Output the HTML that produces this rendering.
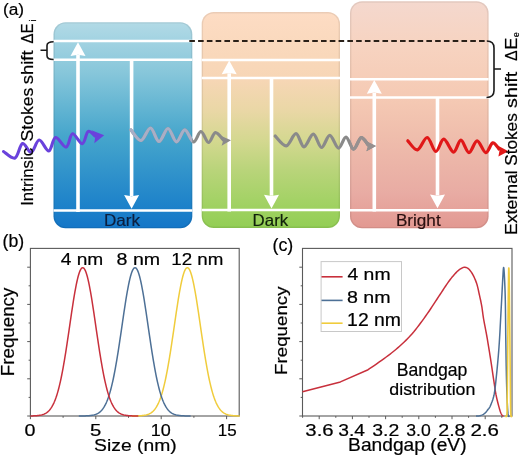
<!DOCTYPE html><html><head><meta charset="utf-8"><title>Figure</title><style>html,body{margin:0;padding:0;background:#fff;overflow:hidden}svg{display:block}text{font-family:"Liberation Sans",Arial,sans-serif}</style></head><body>
<svg width="520" height="458" viewBox="0 0 520 458">
<defs>
<linearGradient id="gb" x1="0" y1="0" x2="0" y2="1">
<stop offset="0" stop-color="#b2dae6"/>
<stop offset="0.25" stop-color="#86c6da"/>
<stop offset="0.55" stop-color="#46a6cc"/>
<stop offset="0.85" stop-color="#2286ca"/>
<stop offset="1" stop-color="#1476c8"/>
</linearGradient>
<linearGradient id="gg" x1="0" y1="0" x2="0" y2="1">
<stop offset="0" stop-color="#fddcc4"/>
<stop offset="0.306" stop-color="#f7d6b6"/>
<stop offset="0.454" stop-color="#ead7a6"/>
<stop offset="0.593" stop-color="#d4d890"/>
<stop offset="0.731" stop-color="#b9d47a"/>
<stop offset="0.87" stop-color="#a4d266"/>
<stop offset="1" stop-color="#92ce54"/>
</linearGradient>
<linearGradient id="gp" x1="0" y1="0" x2="0" y2="1">
<stop offset="0" stop-color="#f4d8ce"/>
<stop offset="0.2" stop-color="#f7d3c0"/>
<stop offset="0.42" stop-color="#f5cab4"/>
<stop offset="0.6" stop-color="#efbdac"/>
<stop offset="0.85" stop-color="#e8aba3"/>
<stop offset="1" stop-color="#e29891"/>
</linearGradient>
<clipPath id="clip_blue"><rect x="53.5" y="22.2" width="138.8" height="206.1" rx="12"/></clipPath>
<clipPath id="clip_green"><rect x="201.7" y="12" width="138.3" height="216" rx="12"/></clipPath>
<clipPath id="clip_pink"><rect x="350" y="1.3" width="138.6" height="227" rx="12"/></clipPath>
</defs>
<rect width="520" height="458" fill="#fff"/>
<rect x="53.5" y="22.2" width="138.8" height="206.1" rx="12" fill="url(#gb)"/>
<rect x="54.2" y="22.9" width="137.4" height="204.7" rx="11.3" fill="none" stroke="#000" stroke-opacity="0.07" stroke-width="1.4"/>
<line x1="53.5" y1="41" x2="192.3" y2="41" stroke="#fff" stroke-width="2.5"/>
<line x1="53.5" y1="59.7" x2="192.3" y2="59.7" stroke="#fff" stroke-width="2.5"/>
<line x1="53.5" y1="210.5" x2="192.3" y2="210.5" stroke="#fff" stroke-width="2.5"/>
<rect x="201.7" y="12" width="138.3" height="216" rx="12" fill="url(#gg)"/>
<rect x="202.4" y="12.7" width="136.9" height="214.6" rx="11.3" fill="none" stroke="#000" stroke-opacity="0.07" stroke-width="1.4"/>
<line x1="201.7" y1="60" x2="340" y2="60" stroke="#fff" stroke-width="2.5"/>
<line x1="201.7" y1="78" x2="340" y2="78" stroke="#fff" stroke-width="2.5"/>
<line x1="201.7" y1="210" x2="340" y2="210" stroke="#fff" stroke-width="2.5"/>
<rect x="350" y="1.3" width="138.6" height="227" rx="12" fill="url(#gp)"/>
<rect x="350.7" y="2" width="137.2" height="225.6" rx="11.3" fill="none" stroke="#000" stroke-opacity="0.07" stroke-width="1.4"/>
<line x1="350" y1="79.3" x2="488.6" y2="79.3" stroke="#fff" stroke-width="2.5"/>
<line x1="350" y1="97.5" x2="488.6" y2="97.5" stroke="#fff" stroke-width="2.5"/>
<line x1="350" y1="210.3" x2="488.6" y2="210.3" stroke="#fff" stroke-width="2.5"/>
<line x1="78" y1="212" x2="78" y2="55" stroke="#fff" stroke-width="3.6"/><path d="M78 42.2 L85.5 56 L78 54.7 L70.5 56 Z" fill="#fff"/>
<line x1="131.6" y1="59.7" x2="131.6" y2="196" stroke="#fff" stroke-width="3.6"/><path d="M131.6 208.8 L139.1 195 L131.6 196.3 L124.1 195 Z" fill="#fff"/>
<line x1="229.2" y1="211.5" x2="229.2" y2="73.3" stroke="#fff" stroke-width="3.6"/><path d="M229.2 60.5 L236.7 74.3 L229.2 73 L221.7 74.3 Z" fill="#fff"/>
<line x1="271.5" y1="78" x2="271.5" y2="195.7" stroke="#fff" stroke-width="3.6"/><path d="M271.5 208.5 L279 194.7 L271.5 196 L264 194.7 Z" fill="#fff"/>
<line x1="374.3" y1="211.5" x2="374.3" y2="92.8" stroke="#fff" stroke-width="3.6"/><path d="M374.3 80 L381.8 93.8 L374.3 92.5 L366.8 93.8 Z" fill="#fff"/>
<line x1="437.5" y1="97.5" x2="437.5" y2="195.5" stroke="#fff" stroke-width="3.6"/><path d="M437.5 208.3 L445 194.5 L437.5 195.8 L430 194.5 Z" fill="#fff"/>
<line x1="189.3" y1="41" x2="487.5" y2="41" stroke="#2a2018" stroke-width="2" stroke-dasharray="5.6 3.18"/>
<path d="M486.8 41 Q494 41 494 48 V90.5 Q494 97.5 486.5 97.5 M494 69 H501" fill="none" stroke="#1a1a1a" stroke-width="1.6" stroke-linecap="butt"/>
<path d="M53.6 41.8 Q47 41.8 47 45.5 V55.8 Q47 59.5 53.6 59.5 M47 50.2 H40.5" fill="none" stroke="#1a1a1a" stroke-width="1.6" stroke-linecap="butt"/>
<path d="M3.5 151.5C5.42 152.58 11.83 159.33 15 158C18.17 156.67 19.8 144.45 22.5 143.5C25.2 142.55 28.42 152.88 31.2 152.3C33.98 151.72 36.27 140.22 39.2 140C42.13 139.78 46.08 151.42 48.8 151C51.52 150.58 52.6 138.15 55.5 137.5C58.4 136.85 63.37 147.72 66.2 147.1C69.03 146.48 69.82 134.37 72.5 133.8C75.18 133.23 79.7 144.08 82.3 143.7C84.9 143.32 85.98 132.78 88.1 131.5C90.22 130.22 93.85 135.25 95 136" fill="none" stroke="#6a42dc" stroke-width="3.1" stroke-linejoin="round" stroke-linecap="round"/>
<path d="M104.2 135.2 L91.5 130.2 L95.3 136.3 L94.3 143.2 Z" fill="#6a42dc"/>
<path d="M131 130C132.67 131.75 137.75 140.83 141 140.5C144.25 140.17 147.5 127.83 150.5 128C153.5 128.17 156.08 141.42 159 141.5C161.92 141.58 165.1 128.45 168 128.5C170.9 128.55 173.6 141.58 176.4 141.8C179.2 142.02 181.95 129.78 184.8 129.8C187.65 129.82 190.8 141.62 193.5 141.9C196.2 142.18 198.5 131.4 201 131.5C203.5 131.6 206.1 142.3 208.5 142.5C210.9 142.7 212.9 133.08 215.4 132.7C217.9 132.32 222.15 138.95 223.5 140.2" fill="none" stroke="#8a8a8a" stroke-width="3.2" stroke-linejoin="round" stroke-linecap="round"/>
<path d="M231 140.3 L220.2 135.4 L223.3 140.2 L221.6 145.8 Z" fill="#8a8a8a"/>
<g clip-path="url(#clip_blue)"><path d="M131 130C132.67 131.75 137.75 140.83 141 140.5C144.25 140.17 147.5 127.83 150.5 128C153.5 128.17 156.08 141.42 159 141.5C161.92 141.58 165.1 128.45 168 128.5C170.9 128.55 173.6 141.58 176.4 141.8C179.2 142.02 181.95 129.78 184.8 129.8C187.65 129.82 190.8 141.62 193.5 141.9C196.2 142.18 198.5 131.4 201 131.5C203.5 131.6 206.1 142.3 208.5 142.5C210.9 142.7 212.9 133.08 215.4 132.7C217.9 132.32 222.15 138.95 223.5 140.2" fill="none" stroke="#a9aec6" stroke-width="3.2" stroke-linejoin="round" stroke-linecap="round"/><path d="M231 140.3 L220.2 135.4 L223.3 140.2 L221.6 145.8 Z" fill="#a9aec6"/></g>
<path d="M275.2 136C277.03 137.63 282.73 146.18 286.2 145.8C289.67 145.42 293.03 133.52 296 133.7C298.97 133.88 301.12 146.82 304 146.9C306.88 146.98 310.38 134.1 313.3 134.2C316.22 134.3 318.75 147.3 321.5 147.5C324.25 147.7 326.97 135.3 329.8 135.4C332.63 135.5 335.8 147.82 338.5 148.1C341.2 148.38 343.5 136.92 346 137.1C348.5 137.28 351 149.1 353.5 149.2C356 149.3 358.58 138.43 361 137.7C363.42 136.97 366.83 143.62 368 144.8" fill="none" stroke="#8a8a8a" stroke-width="3.2" stroke-linejoin="round" stroke-linecap="round"/>
<path d="M376 145.9 L365.2 140.8 L368.3 145.4 L366.4 151.2 Z" fill="#8a8a8a"/>
<g clip-path="url(#clip_pink)"><path d="M275.2 136C277.03 137.63 282.73 146.18 286.2 145.8C289.67 145.42 293.03 133.52 296 133.7C298.97 133.88 301.12 146.82 304 146.9C306.88 146.98 310.38 134.1 313.3 134.2C316.22 134.3 318.75 147.3 321.5 147.5C324.25 147.7 326.97 135.3 329.8 135.4C332.63 135.5 335.8 147.82 338.5 148.1C341.2 148.38 343.5 136.92 346 137.1C348.5 137.28 351 149.1 353.5 149.2C356 149.3 358.58 138.43 361 137.7C363.42 136.97 366.83 143.62 368 144.8" fill="none" stroke="#969090" stroke-width="3.2" stroke-linejoin="round" stroke-linecap="round"/><path d="M376 145.9 L365.2 140.8 L368.3 145.4 L366.4 151.2 Z" fill="#969090"/></g>
<path d="M407.8 140.8C409.42 142.32 414.27 150.45 417.5 149.9C420.73 149.35 424.15 137.23 427.2 137.5C430.25 137.77 433.03 151.22 435.8 151.5C438.57 151.78 440.85 139.1 443.8 139.2C446.75 139.3 450.65 151.93 453.5 152.1C456.35 152.27 458.32 140.12 460.9 140.2C463.48 140.28 466.3 152.5 469 152.6C471.7 152.7 474.32 140.8 477.1 140.8C479.88 140.8 483.1 152.25 485.7 152.6C488.3 152.95 490.48 143.5 492.7 142.9C494.92 142.3 497.95 147.98 499 149" fill="none" stroke="#e01818" stroke-width="3.2" stroke-linejoin="round" stroke-linecap="round"/>
<path d="M508.4 151.2 L496.2 144.8 L499.6 149.9 L498.4 156.4 Z" fill="#e01818"/>
<rect x="30.4" y="248.4" width="208.8" height="167.6" fill="none" stroke="#5a5a5a" stroke-width="1.1"/>
<path d="M30.4 416H27.2M30.4 397.4H28.6M30.4 378.8H27.2M30.4 360.2H28.6M30.4 341.6H27.2M30.4 323H28.6M30.4 304.4H27.2M30.4 285.8H28.6M30.4 267.2H27.2M30.4 416V419.2M63.1 416V417.8M95.8 416V419.2M128.5 416V417.8M161.2 416V419.2M193.9 416V417.8M226.6 416V419.2" stroke="#5a5a5a" stroke-width="1" fill="none"/>
<rect x="302.5" y="248.4" width="209.5" height="167.6" fill="none" stroke="#5a5a5a" stroke-width="1.1"/>
<path d="M302.5 416H299.3M302.5 397.4H300.7M302.5 378.8H299.3M302.5 360.2H300.7M302.5 341.6H299.3M302.5 323H300.7M302.5 304.4H299.3M302.5 285.8H300.7M302.5 267.2H299.3M302.6 416V417.8M319.2 416V419.2M335.8 416V417.8M352.4 416V419.2M369 416V417.8M385.6 416V419.2M402.2 416V417.8M418.8 416V419.2M435.4 416V417.8M452 416V419.2M468.6 416V417.8M485.2 416V419.2M501.8 416V417.8" stroke="#5a5a5a" stroke-width="1" fill="none"/>
<path d="M131.12 415.99 L131.77 415.98 L132.42 415.98 L133.08 415.97 L133.73 415.97 L134.39 415.96 L135.04 415.95 L135.69 415.94 L136.35 415.93 L137 415.91 L137.66 415.89 L138.31 415.87 L138.96 415.84 L139.62 415.81 L140.27 415.77 L140.93 415.73 L141.58 415.68 L142.23 415.61 L142.89 415.54 L143.54 415.46 L144.2 415.36 L144.85 415.25 L145.5 415.11 L146.16 414.96 L146.81 414.79 L147.47 414.58 L148.12 414.35 L148.77 414.09 L149.43 413.79 L150.08 413.45 L150.74 413.06 L151.39 412.62 L152.04 412.13 L152.7 411.57 L153.35 410.95 L154.01 410.26 L154.66 409.48 L155.31 408.63 L155.97 407.68 L156.62 406.63 L157.28 405.47 L157.93 404.2 L158.58 402.81 L159.24 401.3 L159.89 399.65 L160.55 397.86 L161.2 395.93 L161.85 393.85 L162.51 391.61 L163.16 389.21 L163.82 386.65 L164.47 383.93 L165.12 381.04 L165.78 377.98 L166.43 374.77 L167.09 371.39 L167.74 367.85 L168.39 364.17 L169.05 360.34 L169.7 356.38 L170.36 352.3 L171.01 348.1 L171.66 343.81 L172.32 339.45 L172.97 335.02 L173.63 330.55 L174.28 326.05 L174.93 321.56 L175.59 317.09 L176.24 312.66 L176.9 308.31 L177.55 304.06 L178.2 299.92 L178.86 295.94 L179.51 292.13 L180.17 288.52 L180.82 285.13 L181.47 281.98 L182.13 279.1 L182.78 276.51 L183.44 274.23 L184.09 272.26 L184.74 270.64 L185.4 269.36 L186.05 268.44 L186.71 267.89 L187.36 267.7 L188.01 267.89 L188.67 268.44 L189.32 269.36 L189.98 270.64 L190.63 272.26 L191.28 274.23 L191.94 276.51 L192.59 279.1 L193.25 281.98 L193.9 285.13 L194.55 288.52 L195.21 292.13 L195.86 295.94 L196.52 299.92 L197.17 304.06 L197.82 308.31 L198.48 312.66 L199.13 317.09 L199.79 321.56 L200.44 326.05 L201.09 330.55 L201.75 335.02 L202.4 339.45 L203.06 343.81 L203.71 348.1 L204.36 352.3 L205.02 356.38 L205.67 360.34 L206.33 364.17 L206.98 367.85 L207.63 371.39 L208.29 374.77 L208.94 377.98 L209.6 381.04 L210.25 383.93 L210.9 386.65 L211.56 389.21 L212.21 391.61 L212.87 393.85 L213.52 395.93 L214.17 397.86 L214.83 399.65 L215.48 401.3 L216.14 402.81 L216.79 404.2 L217.44 405.47 L218.1 406.63 L218.75 407.68 L219.41 408.63 L220.06 409.48 L220.71 410.26 L221.37 410.95 L222.02 411.57 L222.68 412.13 L223.33 412.62 L223.98 413.06 L224.64 413.45 L225.29 413.79 L225.95 414.09 L226.6 414.35 L227.25 414.58 L227.91 414.79 L228.56 414.96 L229.22 415.11 L229.87 415.25 L230.52 415.36 L231.18 415.46 L231.83 415.54 L232.49 415.61 L233.14 415.68 L233.79 415.73 L234.45 415.77 L235.1 415.81 L235.76 415.84 L236.41 415.87 L237.06 415.89 L237.72 415.91 L238.37 415.93 L239.03 415.94 L239.68 415.95" fill="none" stroke="#f0cc3c" stroke-width="1.5" stroke-linejoin="round"/>
<path d="M78.8 415.99 L79.45 415.98 L80.1 415.98 L80.76 415.97 L81.41 415.97 L82.07 415.96 L82.72 415.95 L83.37 415.94 L84.03 415.93 L84.68 415.91 L85.34 415.89 L85.99 415.87 L86.64 415.84 L87.3 415.81 L87.95 415.77 L88.61 415.73 L89.26 415.68 L89.91 415.61 L90.57 415.54 L91.22 415.46 L91.88 415.36 L92.53 415.25 L93.18 415.11 L93.84 414.96 L94.49 414.79 L95.15 414.58 L95.8 414.35 L96.45 414.09 L97.11 413.79 L97.76 413.45 L98.42 413.06 L99.07 412.62 L99.72 412.13 L100.38 411.57 L101.03 410.95 L101.69 410.26 L102.34 409.48 L102.99 408.63 L103.65 407.68 L104.3 406.63 L104.96 405.47 L105.61 404.2 L106.26 402.81 L106.92 401.3 L107.57 399.65 L108.23 397.86 L108.88 395.93 L109.53 393.85 L110.19 391.61 L110.84 389.21 L111.5 386.65 L112.15 383.93 L112.8 381.04 L113.46 377.98 L114.11 374.77 L114.77 371.39 L115.42 367.85 L116.07 364.17 L116.73 360.34 L117.38 356.38 L118.04 352.3 L118.69 348.1 L119.34 343.81 L120 339.45 L120.65 335.02 L121.31 330.55 L121.96 326.05 L122.61 321.56 L123.27 317.09 L123.92 312.66 L124.58 308.31 L125.23 304.06 L125.88 299.92 L126.54 295.94 L127.19 292.13 L127.85 288.52 L128.5 285.13 L129.15 281.98 L129.81 279.1 L130.46 276.51 L131.12 274.23 L131.77 272.26 L132.42 270.64 L133.08 269.36 L133.73 268.44 L134.39 267.89 L135.04 267.7 L135.69 267.89 L136.35 268.44 L137 269.36 L137.66 270.64 L138.31 272.26 L138.96 274.23 L139.62 276.51 L140.27 279.1 L140.93 281.98 L141.58 285.13 L142.23 288.52 L142.89 292.13 L143.54 295.94 L144.2 299.92 L144.85 304.06 L145.5 308.31 L146.16 312.66 L146.81 317.09 L147.47 321.56 L148.12 326.05 L148.77 330.55 L149.43 335.02 L150.08 339.45 L150.74 343.81 L151.39 348.1 L152.04 352.3 L152.7 356.38 L153.35 360.34 L154.01 364.17 L154.66 367.85 L155.31 371.39 L155.97 374.77 L156.62 377.98 L157.28 381.04 L157.93 383.93 L158.58 386.65 L159.24 389.21 L159.89 391.61 L160.55 393.85 L161.2 395.93 L161.85 397.86 L162.51 399.65 L163.16 401.3 L163.82 402.81 L164.47 404.2 L165.12 405.47 L165.78 406.63 L166.43 407.68 L167.09 408.63 L167.74 409.48 L168.39 410.26 L169.05 410.95 L169.7 411.57 L170.36 412.13 L171.01 412.62 L171.66 413.06 L172.32 413.45 L172.97 413.79 L173.63 414.09 L174.28 414.35 L174.93 414.58 L175.59 414.79 L176.24 414.96 L176.9 415.11 L177.55 415.25 L178.2 415.36 L178.86 415.46 L179.51 415.54 L180.17 415.61 L180.82 415.68 L181.47 415.73 L182.13 415.77 L182.78 415.81 L183.44 415.84 L184.09 415.87 L184.74 415.89 L185.4 415.91 L186.05 415.93 L186.71 415.94 L187.36 415.95 L188.01 415.96 L188.67 415.97 L189.32 415.97 L189.98 415.98 L190.63 415.98" fill="none" stroke="#4d7096" stroke-width="1.5" stroke-linejoin="round"/>
<path d="M30.4 415.95 L31.05 415.94 L31.71 415.93 L32.36 415.91 L33.02 415.89 L33.67 415.87 L34.32 415.84 L34.98 415.81 L35.63 415.77 L36.29 415.73 L36.94 415.68 L37.59 415.61 L38.25 415.54 L38.9 415.46 L39.56 415.36 L40.21 415.25 L40.86 415.11 L41.52 414.96 L42.17 414.79 L42.83 414.58 L43.48 414.35 L44.13 414.09 L44.79 413.79 L45.44 413.45 L46.1 413.06 L46.75 412.62 L47.4 412.13 L48.06 411.57 L48.71 410.95 L49.37 410.26 L50.02 409.48 L50.67 408.63 L51.33 407.68 L51.98 406.63 L52.64 405.47 L53.29 404.2 L53.94 402.81 L54.6 401.3 L55.25 399.65 L55.91 397.86 L56.56 395.93 L57.21 393.85 L57.87 391.61 L58.52 389.21 L59.18 386.65 L59.83 383.93 L60.48 381.04 L61.14 377.98 L61.79 374.77 L62.45 371.39 L63.1 367.85 L63.75 364.17 L64.41 360.34 L65.06 356.38 L65.72 352.3 L66.37 348.1 L67.02 343.81 L67.68 339.45 L68.33 335.02 L68.99 330.55 L69.64 326.05 L70.29 321.56 L70.95 317.09 L71.6 312.66 L72.26 308.31 L72.91 304.06 L73.56 299.92 L74.22 295.94 L74.87 292.13 L75.53 288.52 L76.18 285.13 L76.83 281.98 L77.49 279.1 L78.14 276.51 L78.8 274.23 L79.45 272.26 L80.1 270.64 L80.76 269.36 L81.41 268.44 L82.07 267.89 L82.72 267.7 L83.37 267.89 L84.03 268.44 L84.68 269.36 L85.34 270.64 L85.99 272.26 L86.64 274.23 L87.3 276.51 L87.95 279.1 L88.61 281.98 L89.26 285.13 L89.91 288.52 L90.57 292.13 L91.22 295.94 L91.88 299.92 L92.53 304.06 L93.18 308.31 L93.84 312.66 L94.49 317.09 L95.15 321.56 L95.8 326.05 L96.45 330.55 L97.11 335.02 L97.76 339.45 L98.42 343.81 L99.07 348.1 L99.72 352.3 L100.38 356.38 L101.03 360.34 L101.69 364.17 L102.34 367.85 L102.99 371.39 L103.65 374.77 L104.3 377.98 L104.96 381.04 L105.61 383.93 L106.26 386.65 L106.92 389.21 L107.57 391.61 L108.23 393.85 L108.88 395.93 L109.53 397.86 L110.19 399.65 L110.84 401.3 L111.5 402.81 L112.15 404.2 L112.8 405.47 L113.46 406.63 L114.11 407.68 L114.77 408.63 L115.42 409.48 L116.07 410.26 L116.73 410.95 L117.38 411.57 L118.04 412.13 L118.69 412.62 L119.34 413.06 L120 413.45 L120.65 413.79 L121.31 414.09 L121.96 414.35 L122.61 414.58 L123.27 414.79 L123.92 414.96 L124.58 415.11 L125.23 415.25 L125.88 415.36 L126.54 415.46 L127.19 415.54 L127.85 415.61 L128.5 415.68 L129.15 415.73 L129.81 415.77 L130.46 415.81 L131.12 415.84 L131.77 415.87 L132.42 415.89 L133.08 415.91 L133.73 415.93 L134.39 415.94 L135.04 415.95 L135.69 415.96 L136.35 415.97 L137 415.97 L137.66 415.98 L138.31 415.98" fill="none" stroke="#c8303c" stroke-width="1.5" stroke-linejoin="round"/>
<path d="M302.5 391.8 L340.4 381.9 L368.1 369.7 L369.53 368.71 L371.47 367.37 L373.78 365.77 L376.33 364.01 L378.98 362.16 L381.6 360.32 L384.05 358.57 L386.2 357 L388.08 355.6 L389.83 354.28 L391.48 353.02 L393.06 351.77 L394.61 350.53 L396.14 349.26 L397.7 347.92 L399.3 346.5 L400.94 345.01 L402.57 343.5 L404.21 341.95 L405.85 340.36 L407.49 338.72 L409.13 337.02 L410.76 335.25 L412.4 333.4 L414.04 331.47 L415.67 329.46 L417.31 327.39 L418.95 325.26 L420.59 323.07 L422.22 320.84 L423.86 318.58 L425.5 316.3 L427.16 313.94 L428.84 311.48 L430.53 308.96 L432.21 306.41 L433.88 303.87 L435.51 301.38 L437.09 298.98 L438.6 296.7 L440.06 294.51 L441.47 292.35 L442.85 290.24 L444.18 288.2 L445.47 286.24 L446.73 284.38 L447.93 282.62 L449.1 281 L450.23 279.5 L451.31 278.11 L452.36 276.82 L453.37 275.64 L454.33 274.55 L455.24 273.55 L456.1 272.63 L456.9 271.8 L457.64 271.07 L458.31 270.47 L458.92 269.96 L459.48 269.54 L460.01 269.18 L460.52 268.87 L461.01 268.58 L461.5 268.3 L461.97 268.04 L462.41 267.82 L462.82 267.63 L463.21 267.49 L463.59 267.38 L463.98 267.32 L464.38 267.29 L464.8 267.3 L465.24 267.34 L465.69 267.4 L466.14 267.5 L466.59 267.64 L467.06 267.83 L467.53 268.08 L468.01 268.4 L468.5 268.8 L469 269.28 L469.52 269.83 L470.05 270.44 L470.58 271.12 L471.12 271.86 L471.65 272.65 L472.18 273.5 L472.7 274.4 L473.22 275.37 L473.75 276.42 L474.28 277.53 L474.81 278.7 L475.32 279.9 L475.81 281.13 L476.27 282.37 L476.7 283.6 L477.08 284.83 L477.43 286.08 L477.75 287.35 L478.04 288.63 L478.33 289.94 L478.61 291.27 L478.9 292.62 L479.2 294 L479.52 295.41 L479.84 296.84 L480.16 298.3 L480.49 299.78 L480.81 301.28 L481.12 302.81 L481.42 304.34 L481.7 305.9 L481.96 307.45 L482.19 309 L482.4 310.55 L482.61 312.13 L482.82 313.75 L483.05 315.42 L483.3 317.17 L483.6 319 L483.94 320.9 L484.3 322.86 L484.69 324.87 L485.09 326.95 L485.51 329.09 L485.94 331.31 L486.37 333.61 L486.8 336 L487.23 338.49 L487.67 341.08 L488.12 343.76 L488.58 346.51 L489.03 349.32 L489.49 352.16 L489.95 355.03 L490.4 357.9 L490.86 360.87 L491.33 363.98 L491.81 367.17 L492.28 370.38 L492.75 373.52 L493.19 376.53 L493.61 379.35 L494 381.9 L494.34 384.15 L494.63 386.15 L494.9 387.97 L495.14 389.65 L495.39 391.26 L495.66 392.85 L495.95 394.47 L496.3 396.2 L496.71 398.06 L497.16 400.02 L497.65 402.01 L498.15 403.99 L498.65 405.9 L499.14 407.67 L499.59 409.26 L500 410.6 L500.36 411.69 L500.7 412.57 L501.01 413.29 L501.31 413.86 L501.58 414.33 L501.84 414.72 L502.07 415.07 L502.3 415.4 L502.51 415.68 L502.71 415.86 L502.88 415.96 L503.04 416 L503.19 416 L503.31 415.99 L503.41 415.98 L503.5 416" fill="none" stroke="#c8303c" stroke-width="1.5" stroke-linejoin="round"/>
<path d="M476 416 L476.31 415.99 L476.71 415.99 L477.19 415.99 L477.72 415.98 L478.29 415.96 L478.88 415.91 L479.45 415.83 L480 415.7 L480.54 415.54 L481.09 415.35 L481.66 415.13 L482.23 414.89 L482.79 414.61 L483.35 414.31 L483.89 413.97 L484.4 413.6 L484.9 413.18 L485.38 412.71 L485.86 412.19 L486.32 411.65 L486.77 411.1 L487.2 410.54 L487.61 410.01 L488 409.5 L488.35 409.07 L488.66 408.71 L488.94 408.4 L489.2 408.07 L489.46 407.69 L489.74 407.21 L490.05 406.6 L490.4 405.8 L490.8 404.84 L491.25 403.77 L491.72 402.59 L492.21 401.29 L492.69 399.89 L493.16 398.37 L493.6 396.74 L494 395 L494.35 393.18 L494.66 391.29 L494.94 389.3 L495.21 387.2 L495.47 384.95 L495.73 382.51 L496 379.87 L496.3 377 L496.62 373.87 L496.96 370.51 L497.31 366.94 L497.66 363.19 L498.01 359.29 L498.36 355.27 L498.69 351.17 L499 347 L499.3 342.56 L499.6 337.73 L499.89 332.68 L500.17 327.57 L500.43 322.58 L500.68 317.87 L500.9 313.62 L501.1 310 L501.26 307.08 L501.39 304.73 L501.49 302.81 L501.58 301.19 L501.65 299.73 L501.72 298.29 L501.8 296.72 L501.9 294.9 L502.01 292.83 L502.12 290.65 L502.23 288.41 L502.35 286.16 L502.47 283.95 L502.58 281.82 L502.69 279.82 L502.8 278 L502.9 276.25 L503.01 274.48 L503.11 272.76 L503.21 271.16 L503.3 269.76 L503.4 268.64 L503.5 267.86 L503.6 267.5 L503.7 267.55 L503.8 267.93 L503.9 268.61 L503.99 269.59 L504.09 270.84 L504.19 272.34 L504.3 274.07 L504.4 276 L504.51 278.15 L504.63 280.54 L504.75 283.16 L504.87 286.03 L504.99 289.15 L505.1 292.51 L505.21 296.13 L505.3 300 L505.38 304.23 L505.45 308.88 L505.51 313.83 L505.56 319 L505.62 324.3 L505.67 329.62 L505.73 334.89 L505.8 340 L505.88 345.1 L505.96 350.35 L506.04 355.66 L506.12 360.94 L506.21 366.1 L506.31 371.05 L506.4 375.72 L506.5 380 L506.6 383.94 L506.71 387.64 L506.82 391.11 L506.94 394.34 L507.05 397.35 L507.17 400.12 L507.29 402.67 L507.4 405 L507.51 407.07 L507.62 408.88 L507.72 410.44 L507.83 411.78 L507.94 412.93 L508.05 413.92 L508.17 414.77 L508.3 415.5 L508.44 416.04 L508.61 416.34 L508.78 416.44 L508.96 416.41 L509.12 416.29 L509.28 416.14 L509.41 416.03 L509.5 416" fill="none" stroke="#4d7096" stroke-width="1.5" stroke-linejoin="round"/>
<path d="M505 416 L505.15 416.04 L505.36 416.19 L505.6 416.39 L505.88 416.55 L506.15 416.59 L506.41 416.43 L506.63 415.99 L506.8 415.2 L506.92 414.3 L506.99 413.46 L507.04 412.52 L507.08 411.3 L507.1 409.61 L507.12 407.29 L507.15 404.14 L507.2 400 L507.26 394.64 L507.33 388.15 L507.41 380.78 L507.48 372.8 L507.56 364.47 L507.64 356.05 L507.72 347.81 L507.8 340 L507.89 332.17 L507.98 323.88 L508.07 315.39 L508.17 307 L508.26 298.98 L508.35 291.62 L508.43 285.2 L508.5 280 L508.56 276.04 L508.6 273.06 L508.64 270.93 L508.67 269.5 L508.7 268.63 L508.73 268.19 L508.76 268.02 L508.8 268 L508.84 268.02 L508.89 268.19 L508.93 268.63 L508.98 269.5 L509.02 270.93 L509.08 273.06 L509.13 276.04 L509.2 280 L509.27 285.2 L509.36 291.62 L509.44 298.98 L509.54 307 L509.63 315.39 L509.72 323.88 L509.82 332.17 L509.9 340 L509.98 347.81 L510.06 356.05 L510.14 364.47 L510.22 372.8 L510.29 380.78 L510.37 388.15 L510.44 394.64 L510.5 400 L510.55 404.14 L510.6 407.29 L510.63 409.61 L510.67 411.3 L510.71 412.52 L510.76 413.46 L510.82 414.3 L510.9 415.2 L511.01 415.99 L511.15 416.43 L511.31 416.59 L511.47 416.55 L511.64 416.39 L511.79 416.19 L511.91 416.04 L512 416" fill="none" stroke="#f0cc3c" stroke-width="1.6" stroke-linejoin="round"/>
<rect x="321.1" y="261.6" width="80.4" height="69.9" fill="none" stroke="#c8c8c8" stroke-width="1"/>
<line x1="321.5" y1="276.8" x2="342.6" y2="276.8" stroke="#c8303c" stroke-width="1.6"/>
<line x1="321.5" y1="300.4" x2="342.6" y2="300.4" stroke="#4d7096" stroke-width="1.6"/>
<line x1="321.5" y1="323.2" x2="342.6" y2="323.2" stroke="#f0cc3c" stroke-width="1.6"/>
<text x="2.88" y="15.12" font-size="17.3" fill="#000" stroke="#000" stroke-width="0.2">(a)</text>
<text transform="translate(33.3 205.8) rotate(-90)" font-size="15.6" fill="#000" stroke="#000" stroke-width="0.2" textLength="57.9" lengthAdjust="spacingAndGlyphs">Intrinsic</text>
<text transform="translate(33.3 141.5) rotate(-90)" font-size="15.6" fill="#000" stroke="#000" stroke-width="0.2" textLength="53.81" lengthAdjust="spacingAndGlyphs">Stokes</text>
<text transform="translate(33.3 84.13) rotate(-90)" font-size="15.6" fill="#000" stroke="#000" stroke-width="0.2" textLength="33.66" lengthAdjust="spacingAndGlyphs">shift</text>
<text transform="translate(33.3 43.47) rotate(-90)" font-size="15.6" fill="#000" stroke="#000" stroke-width="0.2" textLength="9.99" lengthAdjust="spacingAndGlyphs">Δ</text>
<text transform="translate(33.3 33.25) rotate(-90)" font-size="15.6" fill="#000" stroke="#000" stroke-width="0.2" textLength="9.73" lengthAdjust="spacingAndGlyphs">E</text>
<text transform="translate(36.37 21.57) rotate(-90)" font-size="8.5" fill="#000" stroke="#000" stroke-width="0.2">i</text>
<text transform="translate(516.6 235) rotate(-90)" font-size="16" fill="#000" stroke="#000" stroke-width="0.2" textLength="64.8" lengthAdjust="spacingAndGlyphs">External</text>
<text transform="translate(516.6 165.78) rotate(-90)" font-size="16" fill="#000" stroke="#000" stroke-width="0.2" textLength="52.54" lengthAdjust="spacingAndGlyphs">Stokes</text>
<text transform="translate(516.6 107.93) rotate(-90)" font-size="16" fill="#000" stroke="#000" stroke-width="0.2" textLength="36.21" lengthAdjust="spacingAndGlyphs">shift</text>
<text transform="translate(516.6 60.98) rotate(-90)" font-size="16" fill="#000" stroke="#000" stroke-width="0.2" textLength="10.76" lengthAdjust="spacingAndGlyphs">Δ</text>
<text transform="translate(516.6 49.87) rotate(-90)" font-size="16" fill="#000" stroke="#000" stroke-width="0.2" textLength="12.07" lengthAdjust="spacingAndGlyphs">E</text>
<text transform="translate(519.25 37.12) rotate(-90)" font-size="8.5" fill="#000" stroke="#000" stroke-width="0.2">e</text>
<text x="103.88" y="225.9" font-size="17.11" fill="#0c1f3f" stroke="#0c1f3f" stroke-width="0.2">Dark</text>
<text x="252.62" y="225.65" font-size="16.89" fill="#10200a" stroke="#10200a" stroke-width="0.2">Dark</text>
<text x="395.88" y="225.5" font-size="17.15" fill="#2a1010" stroke="#2a1010" stroke-width="0.2">Bright</text>
<text x="2.5" y="246.98" font-size="17.71" fill="#000" stroke="#000" stroke-width="0.2">(b)</text>
<text x="60.75" y="265" font-size="17.16" fill="#000" stroke="#000" stroke-width="0.2" textLength="42.57" lengthAdjust="spacingAndGlyphs">4 nm</text>
<text x="116.55" y="264.75" font-size="16.43" fill="#000" stroke="#000" stroke-width="0.2" textLength="43.62" lengthAdjust="spacingAndGlyphs">8 nm</text>
<text x="171.25" y="264.88" font-size="16.79" fill="#000" stroke="#000" stroke-width="0.2" textLength="52.05" lengthAdjust="spacingAndGlyphs">12 nm</text>
<text transform="translate(14.32 376.2) rotate(-90)" font-size="17.66" fill="#000" stroke="#000" stroke-width="0.2" textLength="88.48" lengthAdjust="spacingAndGlyphs">Frequency</text>
<text x="24.55" y="435.95" font-size="16.37" fill="#000" stroke="#000" stroke-width="0.2" textLength="10.99" lengthAdjust="spacingAndGlyphs">0</text>
<text x="90.03" y="436.08" font-size="16.73" fill="#000" stroke="#000" stroke-width="0.2" textLength="11.29" lengthAdjust="spacingAndGlyphs">5</text>
<text x="150.75" y="435.95" font-size="16.37" fill="#000" stroke="#000" stroke-width="0.2" textLength="20.06" lengthAdjust="spacingAndGlyphs">10</text>
<text x="217.75" y="436.08" font-size="16.73" fill="#000" stroke="#000" stroke-width="0.2" textLength="18.9" lengthAdjust="spacingAndGlyphs">15</text>
<text x="94.12" y="451" font-size="17.14" fill="#000" stroke="#000" stroke-width="0.2" textLength="82.57" lengthAdjust="spacingAndGlyphs">Size (nm)</text>
<text x="272.5" y="251.25" font-size="17.84" fill="#000" stroke="#000" stroke-width="0.2">(c)</text>
<text x="347.45" y="279.5" font-size="16.51" fill="#000" stroke="#000" stroke-width="0.2" textLength="43.14" lengthAdjust="spacingAndGlyphs">4 nm</text>
<text x="346.95" y="302.87" font-size="17.12" fill="#000" stroke="#000" stroke-width="0.2" textLength="43.68" lengthAdjust="spacingAndGlyphs">8 nm</text>
<text x="347.13" y="326.17" font-size="18.42" fill="#000" stroke="#000" stroke-width="0.2" textLength="53.9" lengthAdjust="spacingAndGlyphs">12 nm</text>
<text transform="translate(286.92 374.9) rotate(-90)" font-size="16.94" fill="#000" stroke="#000" stroke-width="0.2" textLength="88.48" lengthAdjust="spacingAndGlyphs">Frequency</text>
<text x="305.38" y="435.95" font-size="16.37" fill="#000" stroke="#000" stroke-width="0.2" textLength="28.27" lengthAdjust="spacingAndGlyphs">3.6</text>
<text x="338.3" y="435.95" font-size="16.37" fill="#000" stroke="#000" stroke-width="0.2" textLength="26.75" lengthAdjust="spacingAndGlyphs">3.4</text>
<text x="372.32" y="435.95" font-size="16.37" fill="#000" stroke="#000" stroke-width="0.2" textLength="27.01" lengthAdjust="spacingAndGlyphs">3.2</text>
<text x="406.22" y="435.95" font-size="16.37" fill="#000" stroke="#000" stroke-width="0.2" textLength="24.5" lengthAdjust="spacingAndGlyphs">3.0</text>
<text x="438.27" y="435.95" font-size="16.37" fill="#000" stroke="#000" stroke-width="0.2" textLength="27.27" lengthAdjust="spacingAndGlyphs">2.8</text>
<text x="470.45" y="435.95" font-size="16.37" fill="#000" stroke="#000" stroke-width="0.2" textLength="28.53" lengthAdjust="spacingAndGlyphs">2.6</text>
<text x="348.12" y="450.75" font-size="17.46" fill="#000" stroke="#000" stroke-width="0.2" textLength="118.43" lengthAdjust="spacingAndGlyphs">Bandgap (eV)</text>
<text x="396.75" y="375.5" font-size="17.46" fill="#000" stroke="#000" stroke-width="0.2" textLength="70.64" lengthAdjust="spacingAndGlyphs">Bandgap</text>
<text x="389.37" y="395.45" font-size="17.24" fill="#000" stroke="#000" stroke-width="0.2" textLength="86.02" lengthAdjust="spacingAndGlyphs">distribution</text>
</svg></body></html>
